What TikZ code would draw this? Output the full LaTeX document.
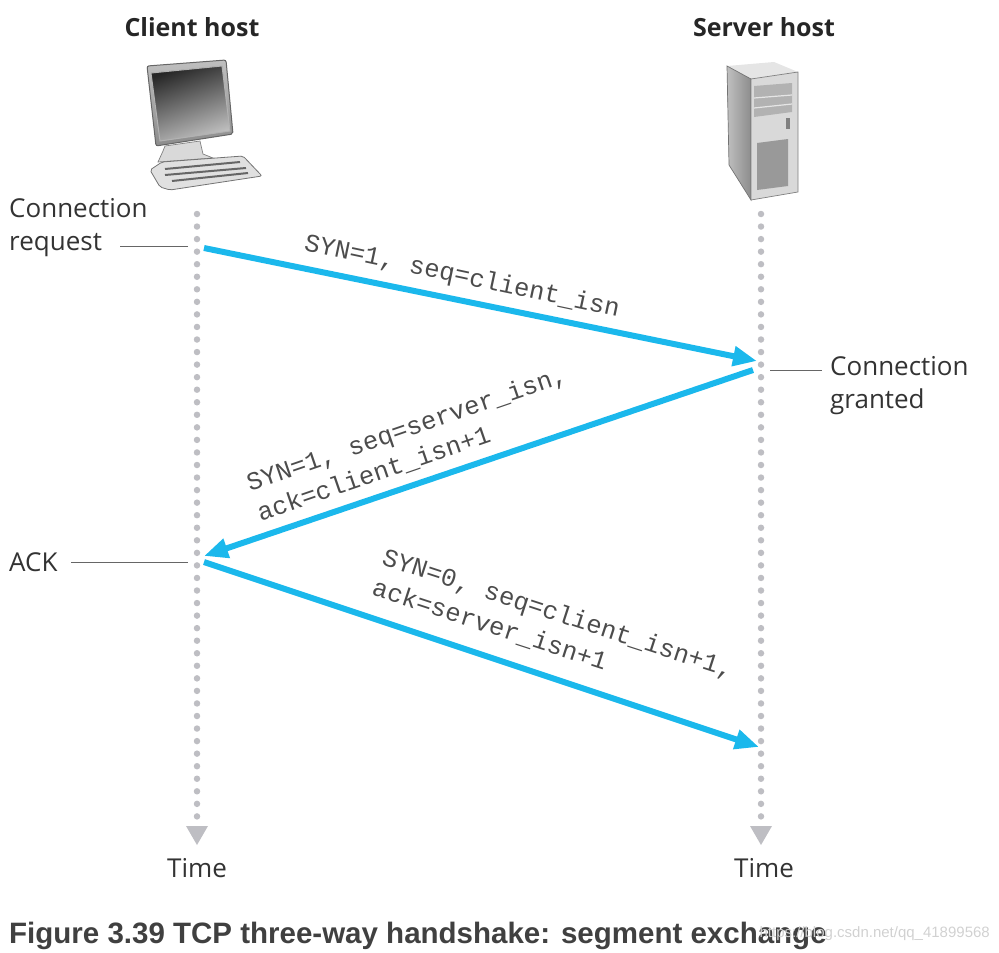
\documentclass[tikz,border=0pt]{standalone}
\usepackage{fontspec}
\setmainfont{Open Sans}
\newfontfamily\capfont{Liberation Sans}
\newfontfamily\segfont{Liberation Mono}
\usetikzlibrary{arrows.meta,calc}
\definecolor{segblue}{RGB}{27,184,236}
\definecolor{dotgray}{RGB}{190,190,195}
\tikzset{
  host/.style={font=\bfseries\fontsize{25}{25}\selectfont,text=black!85,inner sep=0pt},
  lbl/.style={font=\fontsize{26}{33}\selectfont,text=black!80,inner sep=0pt,align=left,anchor=west},
  seg/.style={font=\segfont\fontsize{25.5}{32}\selectfont,text=black!70,inner sep=0pt,align=left},
  timeline/.style={dotgray,line width=6.5pt,line cap=round,dash pattern=on 0pt off 12.55pt},
  tip/.style={fill=dotgray,draw=none},
  msg/.style={segblue,line width=6pt,-{Triangle[length=24pt,width=19pt]}},
  leader/.style={black!60,line width=1pt},
}
\begin{document}
\begin{tikzpicture}[x=1pt,y=-1pt]
\useasboundingbox (0,0) rectangle (999,953);
% client computer
\shade[top color=black!25,bottom color=black!45,draw=black!60,line width=1pt,rounded corners=2pt] (147,66) -- (226,60) -- (233,134) -- (156,146) -- cycle;
\shade[left color=black!85,right color=black!25,shading angle=20,draw=black!30,line width=1pt] (151,73) -- (222,66) -- (230,131) -- (160,141) -- cycle;
\fill[black!15,draw=black!50,line width=.7pt] (200,141) -- (203,154) -- (213,158) -- (158,162) -- (163,151) -- (165,146) -- cycle;
\fill[black!12,draw=black!55,line width=.8pt,rounded corners=2pt] (150,170) -- (162,162) -- (243,156) -- (262,176) -- (170,190) -- (160,187) -- cycle;
\draw[black!60,line width=2pt] (165,169) -- (240,162) (165,175) -- (246,168) (172,181) -- (248,173);
% server tower
\fill[black!10] (727,66) -- (774,62) -- (798,72) -- (751,79) -- cycle;
\shade[left color=black!25,right color=black!45,draw=black!55,line width=.7pt] (727,66) -- (751,79) -- (751,200) -- (729,165) -- cycle;
\fill[black!15,draw=black!50,line width=.7pt] (751,79) -- (798,72) -- (798,192) -- (751,200) -- cycle;
\fill[black!30] (754,86) -- (792,83) -- (792,112) -- (754,117) -- cycle;
\draw[black!10,line width=1.2pt] (754,98) -- (792,95) (754,108) -- (792,104);
\fill[black!40] (757,143) -- (788,139) -- (788,186) -- (757,190) -- cycle;
\fill[black!50] (786,118) rectangle (790,129);
% time lines
\coordinate (ctop) at (197,214);
\coordinate (cend) at (197,826);
\coordinate (stop) at (761,214);
\coordinate (send) at (761,826);
\draw[timeline] (ctop) -- (cend);
\draw[timeline] (stop) -- (send);
\fill[tip] (186,826) -- (208,826) -- (197,845) -- cycle;
\fill[tip] (750,826) -- (772,826) -- (761,845) -- cycle;
% titles and labels
\node[host] (client) at (192,27) {Client host};
\node[host] (server) at (764,27) {Server host};
\node[lbl] (req) at (9,228) {Connection\\request};
\node[lbl] (grant) at (830,386) {Connection\\granted};
\node[lbl] (ack) at (9,562) {ACK};
\node[font=\fontsize{26}{26}\selectfont,text=black!80,inner sep=0pt] (tc) at (197,868) {Time};
\node[font=\fontsize{26}{26}\selectfont,text=black!80,inner sep=0pt] (ts) at (764,868) {Time};
% leaders
\coordinate (a1) at (188,246);
\coordinate (a2) at (120,246);
\coordinate (b1) at (770,370);
\coordinate (b2) at (822,370);
\coordinate (c1) at (188,562);
\coordinate (c2) at (71,562);
\draw[leader] (a1) -- (a2);
\draw[leader] (b1) -- (b2);
\draw[leader] (c1) -- (c2);
% segments
\coordinate (m1a) at (204,248);
\coordinate (m1b) at (757,361);
\coordinate (m2a) at (753,370);
\coordinate (m2b) at (204,556);
\coordinate (m3a) at (204,562);
\coordinate (m3b) at (759,747);
\draw[msg] (m1a) -- (m1b);
\draw[msg] (m2a) -- (m2b);
\draw[msg] (m3a) -- (m3b);
\node[seg,rotate=-12] (s1) at (462,277) {SYN=1, seq=client\_isn};
\node[seg,rotate=19,anchor=center] (s2) at (412,444) {SYN=1, seq=server\_isn,\\ ack=client\_isn+1};
\node[seg,rotate=-18,anchor=center] (s3) at (553,629) {SYN=0, seq=client\_isn+1,\\ack=server\_isn+1};
% caption
\node[font=\capfont\bfseries\fontsize{29.5}{30}\selectfont,text=black!75,inner sep=0pt,anchor=west] (cap) at (9,936) {Figure 3.39 TCP three-way handshake: segment exchange};
\node[font=\capfont\fontsize{15}{15}\selectfont,text=black!18,inner sep=0pt,anchor=east] (wm) at (990,934) {https://blog.csdn.net/qq\_41899568};
\end{tikzpicture}
\end{document}
